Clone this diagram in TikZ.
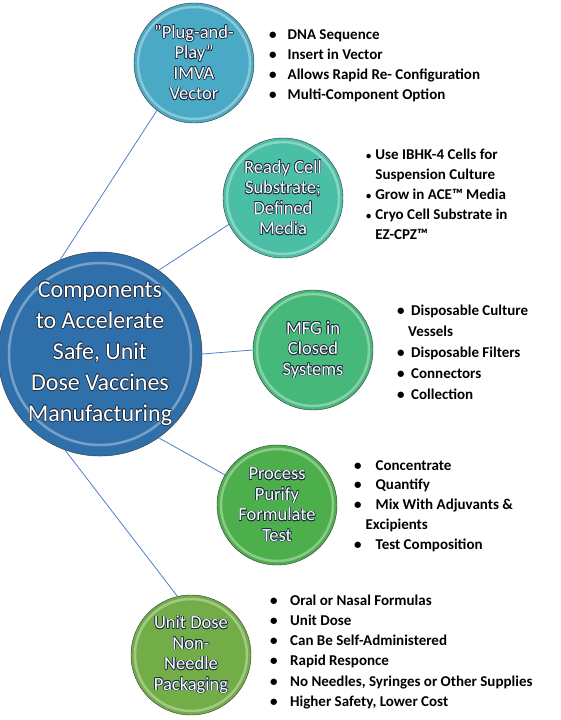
\documentclass[tikz,border=0pt]{standalone}
\usepackage{fontspec}
\setmainfont{Carlito}
\usepackage[copies]{contour}
\contourlength{0.6pt}
\usetikzlibrary{positioning}

\definecolor{hubblue}{HTML}{3070AA}
\definecolor{aquac}{HTML}{4AA9C5}
\definecolor{tealc}{HTML}{4BBFA6}
\definecolor{greenc}{HTML}{46B97A}
\definecolor{leafc}{HTML}{4DAF4C}
\definecolor{olivec}{HTML}{72AD47}
\definecolor{spokec}{HTML}{4F7FC8}
\definecolor{shadowc}{HTML}{1F2F45}

\newcommand{\wtxt}[1]{\contour{shadowc}{#1}}

\begin{document}
\begin{tikzpicture}[
    x=1pt, y=-1pt,
    hub/.style={circle, draw=black!80, minimum size=192pt, inner sep=0pt, fill=hubblue,
        text=white, align=center, font=\fontsize{24}{31}\selectfont,
        path picture={\draw[white, opacity=.35, line width=2.5pt] (path picture bounding box.center) circle (91pt);}},
    stage/.style={circle, draw=black!80, minimum size=120pt, inner sep=0pt, fill=#1,
        text=white, align=center, font=\fontsize{18.5}{20.5}\selectfont,
        path picture={\draw[white, opacity=.35, line width=2.5pt] (path picture bounding box.center) circle (56pt);}},
    spoke/.style={draw=spokec, thick},
    items/.style={anchor=north west, inner sep=0pt, align=left, font=\bfseries}
]
\useasboundingbox (0,0) rectangle (561,720);

% Main circle
\node[hub] (hub) at (100,354) {\wtxt{Components}\\ \wtxt{to Accelerate}\\ \wtxt{Safe, Unit}\\ \wtxt{Dose Vaccines}\\ \wtxt{Manufacturing}};

% Stages
\node[stage=aquac] (vector) at (194,63) {\wtxt{\symbol{34}Plug-and-}\\ \wtxt{Play\symbol{34}}\\ \wtxt{IMVA}\\ \wtxt{Vector}};
\node[stage=tealc] (cells) at (283,198) {\wtxt{Ready Cell}\\ \wtxt{Substrate;}\\ \wtxt{Defined}\\ \wtxt{Media}};
\node[stage=greenc] (mfg) at (313,350) {\wtxt{MFG in}\\ \wtxt{Closed}\\ \wtxt{Systems}};
\node[stage=leafc] (purify) at (277,505) {\wtxt{Process}\\ \wtxt{Purify}\\ \wtxt{Formulate}\\ \wtxt{Test}};
\node[stage=olivec] (pack) at (191,655) {\wtxt{Unit Dose}\\ \wtxt{Non-}\\ \wtxt{Needle}\\ \wtxt{Packaging}};

% Spokes
\draw[spoke] (hub.113) -- (vector.232);
\draw[spoke] (hub.55) -- (cells.206);
\draw[spoke] (hub.0) -- (mfg.180);
\draw[spoke] (hub.-55) -- (purify.150);
\draw[spoke] (hub.-110) -- (pack.103);

% Bullet lists
\node[items] (vectorlist) at (269,25) {\fontsize{15}{20}\selectfont
  \begin{tabular}{@{}l@{\hspace{11pt}}l@{}}
  \textbullet & DNA Sequence\\
  \textbullet & Insert in Vector\\
  \textbullet & Allows Rapid Re- Configuration\\
  \textbullet & Multi-Component Option
  \end{tabular}};
\node[items] (cellslist) at (366,145) {\fontsize{15}{20}\selectfont
  \begin{tabular}{@{}l@{\hspace{4pt}}l@{}}
  \scalebox{.7}{\textbullet} & Use IBHK-4 Cells for\\
   & Suspension Culture\\
  \scalebox{.7}{\textbullet} & Grow in ACE™ Media\\
  \scalebox{.7}{\textbullet} & Cryo Cell Substrate in\\
   & EZ-CPZ™
  \end{tabular}};
\node[items] (mfglist) at (397,301) {\fontsize{15}{21}\selectfont
  \begin{tabular}{@{}l@{\hspace{6.5pt}}l@{}}
  \textbullet & Disposable Culture\\
   & \hspace*{-3pt}Vessels\\
  \textbullet & Disposable Filters\\
  \textbullet & Connectors\\
  \textbullet & Collection
  \end{tabular}};
\node[items] (purifylist) at (354,456) {\fontsize{15}{19.75}\selectfont
  \begin{tabular}{@{}l@{\hspace{14pt}}l@{}}
  \textbullet & Concentrate\\
  \textbullet & Quantify\\
  \textbullet & Mix With Adjuvants \&\\
   & \hspace*{-10pt}Excipients\\
  \textbullet & Test Composition
  \end{tabular}};
\node[items] (packlist) at (270,591) {\fontsize{15}{20.2}\selectfont
  \begin{tabular}{@{}l@{\hspace{12.5pt}}l@{}}
  \textbullet & Oral or Nasal Formulas\\
  \textbullet & Unit Dose\\
  \textbullet & Can Be Self-Administered\\
  \textbullet & Rapid Responce\\
  \textbullet & No Needles, Syringes or Other Supplies\\
  \textbullet & Higher Safety, Lower Cost
  \end{tabular}};

\end{tikzpicture}
\end{document}
